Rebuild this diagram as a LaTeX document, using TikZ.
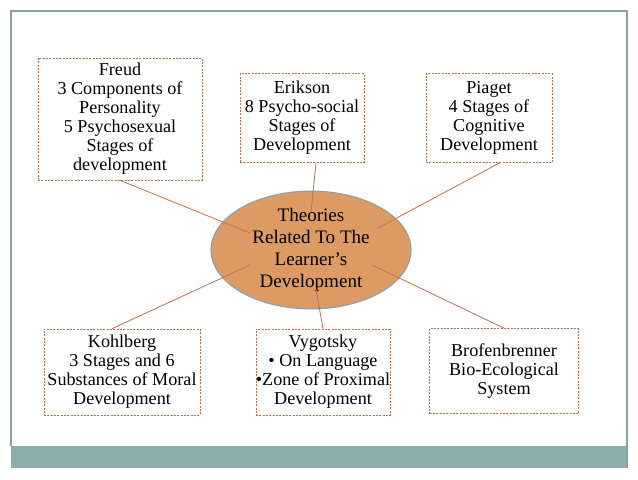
\documentclass[tikz,border=0pt]{standalone}
\usepackage{fontspec}
\setmainfont{Liberation Serif}
\usetikzlibrary{shapes.geometric}
\definecolor{boxc}{HTML}{C0704F}
\definecolor{ellc}{HTML}{DD9A62}
\definecolor{band}{HTML}{8AAEAD}
\definecolor{frame}{HTML}{8A9FA8}
\begin{document}
\begin{tikzpicture}[x=0.75pt,y=-0.75pt,
  tbox/.style={draw=boxc,dash pattern=on 1.5pt off 1pt,line width=0.5pt,align=center,font=\fontsize{13.6}{14.25}\selectfont,inner sep=0pt},
  link/.style={draw=boxc,line width=0.6pt}]
\useasboundingbox (0,0) rectangle (638,479);
\fill[white] (0,0) rectangle (638,479);
\fill[band] (11,446) rectangle (627,468);
\draw[frame,line width=0.8pt] (11,446) -- (11,11) -- (627,11) -- (627,468);
\node[tbox,minimum width=164pt*0.75,minimum height=122pt*0.75] (freud) at (120,119) {Freud\\3 Components of\\Personality\\5 Psychosexual\\Stages of\\development};
\node[tbox,minimum width=124pt*0.75,minimum height=89pt*0.75] (erik) at (302,118) {Erikson\\8 Psycho-social\\Stages of\\Development};
\node[tbox,minimum width=126pt*0.75,minimum height=89pt*0.75] (piaget) at (489,118) {Piaget\\4 Stages of\\Cognitive\\Development};
\node[tbox,minimum width=156pt*0.75,minimum height=86pt*0.75] (kohl) at (122,372) {Kohlberg\\3 Stages and 6\\Substances of Moral\\Development};
\node[tbox,minimum width=126pt*0.75,minimum height=86pt*0.75] (vyg) at (323,372) {Vygotsky\\• On Language\\•Zone of Proximal\\Development};
\node[tbox,minimum width=149pt*0.75,minimum height=85pt*0.75] (brof) at (504,371) {Brofenbrenner\\Bio-Ecological\\System};
\node[ellipse,draw=frame,fill=ellc,line width=0.8pt,minimum width=200pt*0.75,minimum height=80pt*0.75,inner sep=0pt,align=center,font=\fontsize{14.3}{16.5}\selectfont] (th) at (311,250) {Theories\\Related To The\\Learner’s\\Development};
\coordinate (a1) at (250,233);
\coordinate (a2) at (311,212);
\coordinate (a3) at (378,228);
\coordinate (a4) at (250,265);
\coordinate (a5) at (316,289);
\coordinate (a6) at (372,265);
\draw[link] (freud.south) -- (a1);
\draw[link] ([xshift=10.5pt]erik.south) -- (a2);
\draw[link] ([xshift=8pt]piaget.south) -- (a3);
\draw[link] ([xshift=-7.5pt]kohl.north) -- (a4);
\draw[link] (vyg.north) -- (a5);
\draw[link] (brof.north) -- (a6);
\end{tikzpicture}
\end{document}
